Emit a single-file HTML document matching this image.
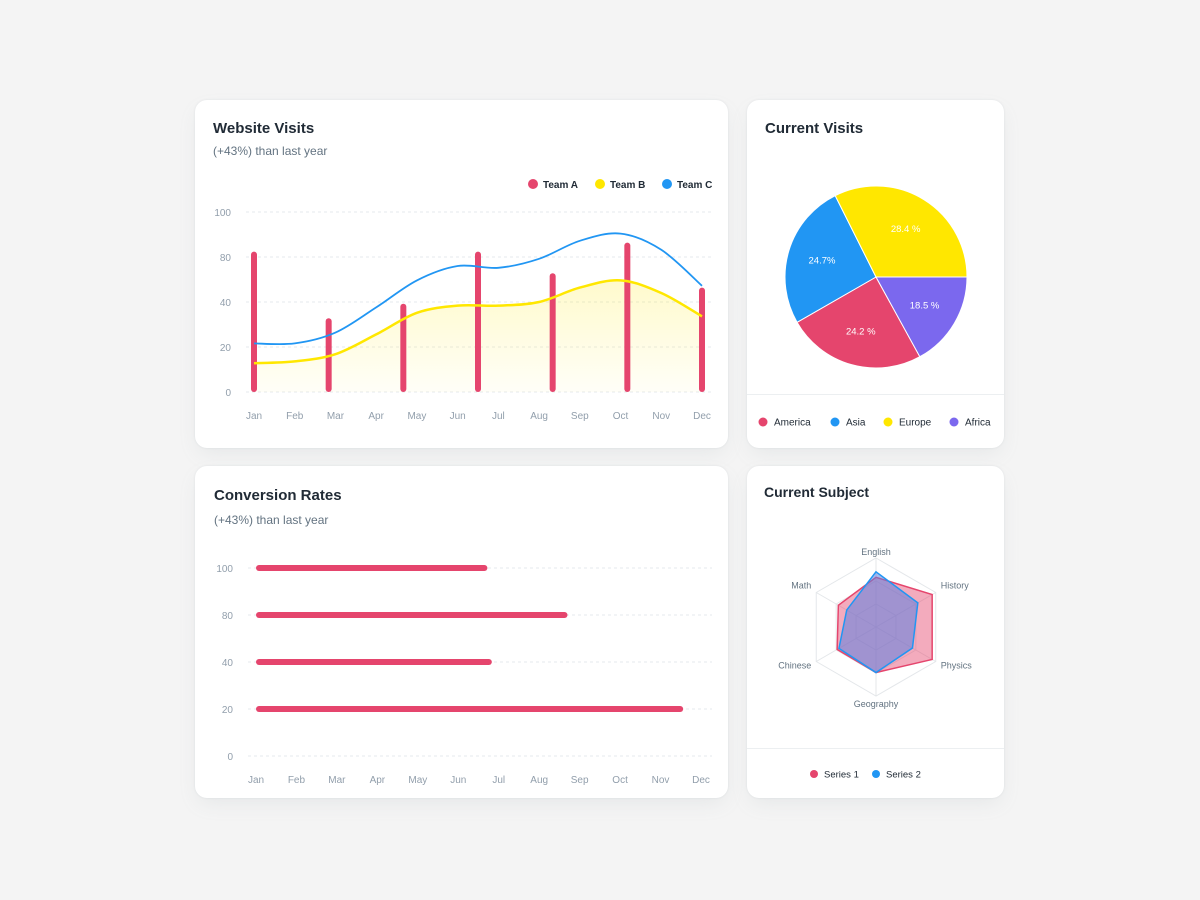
<!DOCTYPE html>
<html><head><meta charset="utf-8"><style>
body{margin:0;width:1200px;height:900px;background:#f4f4f4;font-family:"Liberation Sans",sans-serif;position:relative;overflow:hidden}
.card{position:absolute;background:#fff;border-radius:12px;box-shadow:0 0 2px rgba(145,158,171,.2),0 8px 20px -4px rgba(145,158,171,.15)}
.t{position:absolute;font-weight:bold;font-size:15px;color:#212b36}
.s{position:absolute;font-size:12px;color:#637381}
svg{position:absolute;left:0;top:0}
</style></head><body>
<div class="card" style="left:195px;top:100px;width:533px;height:348px"></div>
<div class="card" style="left:747px;top:100px;width:257px;height:348px"></div>
<div class="card" style="left:195px;top:466px;width:533px;height:332px"></div>
<div class="card" style="left:747px;top:466px;width:257px;height:332px"></div>
<div class="t" style="left:213px;top:120px">Website Visits</div>
<div class="s" style="left:213px;top:144px">(+43%) than last year</div>
<div class="t" style="left:765px;top:120px">Current Visits</div>
<div class="t" style="left:214px;top:487px">Conversion Rates</div>
<div class="s" style="left:214px;top:513px">(+43%) than last year</div>
<div class="t" style="left:764px;top:484px;font-size:14px">Current Subject</div>
<svg id="svg" width="1200" height="900">
<defs><linearGradient id="yg" x1="0" y1="0" x2="0" y2="1"><stop offset="0" stop-color="#ffe700" stop-opacity="0.2"/><stop offset="1" stop-color="#ffe700" stop-opacity="0.03"/></linearGradient></defs>
<line x1="747" y1="394.5" x2="1004" y2="394.5" stroke="#eceff1"/>
<line x1="747" y1="748.5" x2="1004" y2="748.5" stroke="#eceff1"/>
</svg>
<script>
const months=["Jan","Feb","Mar","Apr","May","Jun","Jul","Aug","Sep","Oct","Nov","Dec"];
const yTicks1=["100","80","40","20","0"];
const teamA=[78,41,49,78,66,83,58];
const teamB=[16,17,21,32,44,48,48,50,58,62,55,42];
const teamC=[27,27,33,47,62,70,69,74,84,88,79,59];
const convLabels=["100","80","40","20"];
const convValues=[52,70,53,96];
const yTicks2=["100","80","40","20","0"];
const pieNames=["America","Asia","Europe","Africa"];
const pieValues=[24.7,25.9,32.4,17.0];
const pieLabels=["24.2 %","24.7%","28.4 %","18.5 %"];
const pieColors=["#e5456d","#2196f3","#ffe700","#7b68ee"];
const subjects=["English","History","Physics","Geography","Chinese","Math"];
const series1=[72,94,94,66,65,63];
const series2=[80,70,61,66,62,49];

const svg=document.getElementById('svg');const NS="http://www.w3.org/2000/svg";
function mk(t,a,txt){const e=document.createElementNS(NS,t);for(const k in a)e.setAttribute(k,a[k]);if(txt!==undefined)e.textContent=txt;svg.appendChild(e);return e;}
const RED="#e5456d",YEL="#ffe700",BLU="#2196f3";
// Chart 1
const x1=i=>254+i*(702-254)/11, y1=v=>392-v*1.8, xb=i=>254+i*(702-254)/(teamA.length-1);
yTicks1.forEach((t,i)=>{const y=212+i*45;
 let g=mk('line',{x1:246,x2:712,y1:y,y2:y,stroke:"#e6e9ec","stroke-dasharray":"3 3"});
 
 let l=mk('text',{x:231,y:y+4,"text-anchor":"end","font-size":10,fill:"#919eab"},t);
 });
months.forEach((m,i)=>{let l=mk('text',{x:x1(i),y:419,"text-anchor":"middle","font-size":10,fill:"#919eab"},m);
 });
function smooth(pts){let d=`M${pts[0][0]},${pts[0][1]}`;for(let i=0;i<pts.length-1;i++){const p0=pts[i-1]||pts[i],p1=pts[i],p2=pts[i+1],p3=pts[i+2]||p2;
 d+=` C${p1[0]+(p2[0]-p0[0])/6},${p1[1]+(p2[1]-p0[1])/6} ${p2[0]-(p3[0]-p1[0])/6},${p2[1]-(p3[1]-p1[1])/6} ${p2[0]},${p2[1]}`;}return d;}
const pB=teamB.map((v,i)=>[x1(i),y1(v)]),pC=teamC.map((v,i)=>[x1(i),y1(v)]);
let area=mk('path',{d:smooth(pB)+` L${x1(11)},392 L${x1(0)},392 Z`,fill:"url(#yg)"});

teamA.forEach((v,i)=>{let b=mk('rect',{x:xb(i)-3,y:y1(v),width:6,height:v*1.8,rx:3,fill:RED});
 });
let lb=mk('path',{d:smooth(pB),fill:"none",stroke:YEL,"stroke-width":2.5});

let lc=mk('path',{d:smooth(pC),fill:"none",stroke:BLU,"stroke-width":1.8});

[["Team A",RED,528],["Team B",YEL,595],["Team C",BLU,662]].forEach(([n,c,x])=>{
 let d=mk('circle',{cx:x+5,cy:184,r:5,fill:c});
 let t=mk('text',{x:x+15,y:188,"font-size":10,fill:"#212b36","font-weight":"bold"},n);});
// Chart 3
const x3=v=>256+v*(701-256)/100;
yTicks2.forEach((t,i)=>{const y=568+i*47;
 let g=mk('line',{x1:248,x2:712,y1:y,y2:y,stroke:"#e6e9ec","stroke-dasharray":"3 3"});
 
 let l=mk('text',{x:233,y:y+4,"text-anchor":"end","font-size":10,fill:"#919eab"},t);
 });
convValues.forEach((v,i)=>{const y=568+i*47;let b=mk('rect',{x:256,y:y-3,width:x3(v)-256,height:6,rx:3,fill:RED});
 });
months.forEach((m,i)=>{let l=mk('text',{x:256+i*(701-256)/11,y:783,"text-anchor":"middle","font-size":10,fill:"#919eab"},m);
 });
// Pie
const cx=876,cy=277,R=91,tot=pieValues.reduce((a,b)=>a+b,0);let ang=151.2;
pieValues.forEach((v,i)=>{const a0=ang*Math.PI/180,a1=(ang+v/tot*360)*Math.PI/180;ang+=v/tot*360;
 const P=a=>[cx+R*Math.sin(a),cy-R*Math.cos(a)];const p0=P(a0),p1=P(a1);
 let s=mk('path',{d:`M${cx},${cy} L${p0[0]},${p0[1]} A${R},${R} 0 ${a1-a0>Math.PI?1:0} 1 ${p1[0]},${p1[1]} Z`,fill:pieColors[i],stroke:"#fff","stroke-width":1});
 
 const am=(a0+a1)/2;const lx=cx+R*0.62*Math.sin(am),ly=cy-R*0.62*Math.cos(am);
 let t=mk('text',{x:lx,y:ly+3,"text-anchor":"middle","font-size":9.5,fill:"#fff"},pieLabels[i]);
 });
[[759,"America"],[831,"Asia"],[884,"Europe"],[950,"Africa"]].forEach(([x,n],i)=>{
 let d=mk('circle',{cx:x+4,cy:422,r:4.5,fill:pieColors[i]});
 let t=mk('text',{x:x+15,y:425.5,"font-size":10,fill:"#212b36"},n);});
// Radar
const rx=876,ry=627,RR=69;
const pt=(k,r)=>[rx+r*Math.sin(k*Math.PI/3),ry-r*Math.cos(k*Math.PI/3)];
[1,2/3,1/3].forEach(f=>{let h=mk('polygon',{points:subjects.map((s,k)=>pt(k,RR*f).join(',')).join(' '),fill:"none",stroke:"#e4e7ea"});
 });
subjects.forEach((s,k)=>{let l=mk('line',{x1:rx,y1:ry,x2:pt(k,RR)[0],y2:pt(k,RR)[1],stroke:"#e4e7ea"});
 
 const p=pt(k,RR);const anc=k==0||k==3?"middle":(k<3?"start":"end");
 const dx=k==0||k==3?0:(k<3?5:-5);const dy=k==0?-3:k==3?11:(k==1||k==5?-4:7);
 let t=mk('text',{x:p[0]+dx,y:p[1]+dy,"text-anchor":anc,"font-size":9,fill:"#637381"},s);
 });
let r1=mk('polygon',{points:series1.map((v,k)=>pt(k,RR*v/100).join(',')).join(' '),fill:RED,"fill-opacity":0.45,stroke:RED,"stroke-width":1.5});

let r2=mk('polygon',{points:series2.map((v,k)=>pt(k,RR*v/100).join(',')).join(' '),fill:"#5b7fe0","fill-opacity":0.55,stroke:BLU,"stroke-width":1.5});

[[810,"Series 1",RED],[872,"Series 2",BLU]].forEach(([x,n,c])=>{
 let d=mk('circle',{cx:x+4,cy:774,r:4,fill:c});
 let t=mk('text',{x:x+14,y:777.5,"font-size":9.5,fill:"#212b36"},n);});
</script>
</body></html>
